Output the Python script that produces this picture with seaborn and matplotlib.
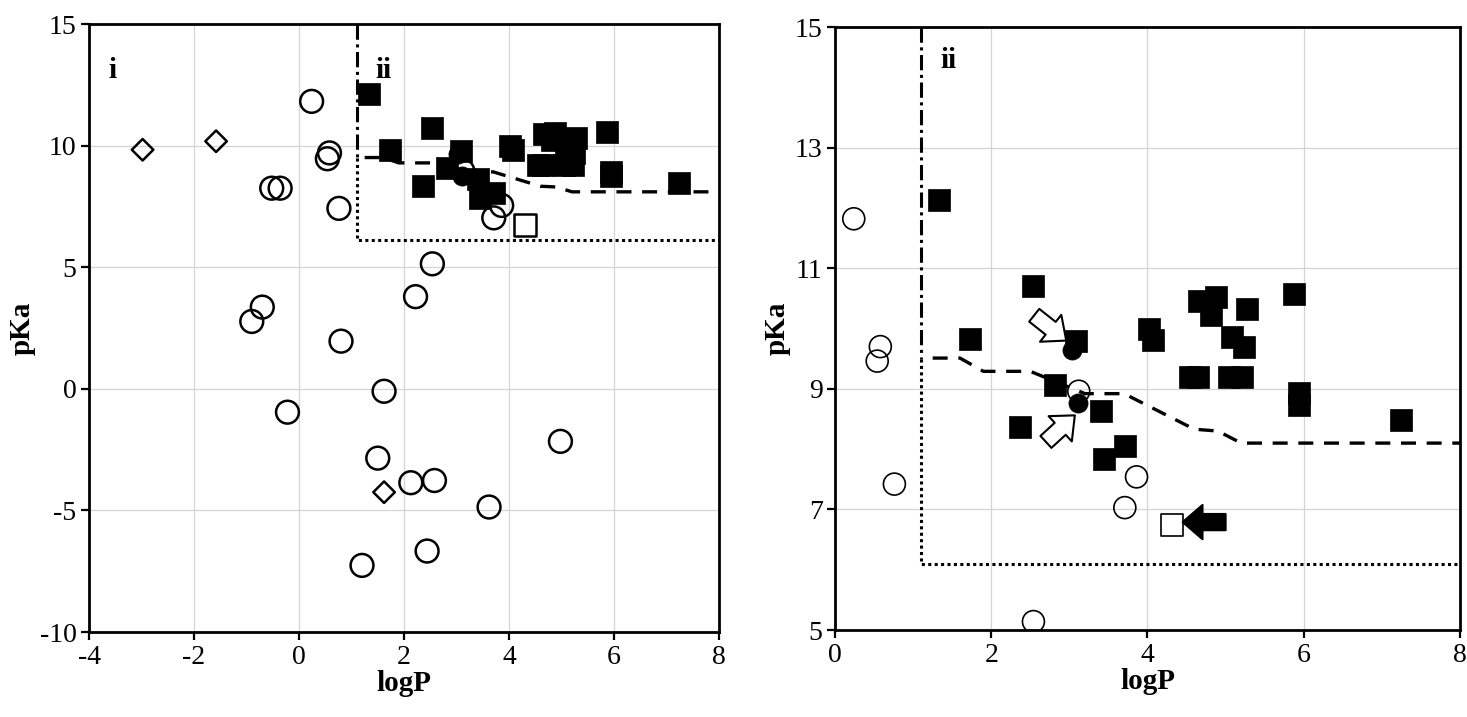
import matplotlib
matplotlib.use("Agg")
import matplotlib.pyplot as plt
import seaborn as sns

# filled squares: compounds inside region ii
sq_logp = [1.33, 1.73, 2.53, 3.09, 4.02, 4.07, 4.66, 4.88, 4.81, 5.28, 5.87, 5.08, 5.24,
           2.81, 3.40, 2.37, 3.71, 3.44, 4.55, 4.65, 5.04, 5.21, 5.94, 5.94, 7.24]
sq_pka = [12.13, 9.82, 10.71, 9.79, 10.00, 9.81, 10.46, 10.52, 10.22, 10.32, 10.57, 9.86, 9.70,
          9.06, 8.63, 8.36, 8.05, 7.83, 9.19, 9.19, 9.19, 9.19, 8.93, 8.74, 8.48]

# open circles
circ_logp = [0.24, 0.58, 0.54, -0.52, -0.36, 0.76, 3.12, 3.86, 3.71, 2.54, 2.22, -0.70,
             -0.90, 0.80, 1.62, -0.22, 4.98, 1.50, 2.13, 2.58, 3.62, 2.44, 1.20]
circ_pka = [11.82, 9.70, 9.46, 8.25, 8.25, 7.42, 8.96, 7.54, 7.03, 5.14, 3.79, 3.36,
            2.77, 1.96, -0.10, -0.96, -2.16, -2.85, -3.86, -3.77, -4.86, -6.67, -7.26]

# open diamonds
dia_logp = [-2.98, -1.58, 1.62]
dia_pka = [9.83, 10.18, -4.25]

# open square and filled circles
osq_logp = [4.31]
osq_pka = [6.75]
fc_logp = [3.03, 3.11]
fc_pka = [9.65, 8.77]

# boundary lines
dash_logp = [1.25, 1.6, 1.9, 2.5, 3.2, 3.7, 4.6, 4.9, 5.2, 8.0]
dash_pka = [9.51, 9.51, 9.29, 9.29, 8.92, 8.92, 8.33, 8.30, 8.10, 8.10]
dot_logp = [1.1, 1.1, 8.0]
dot_pka = [9.5, 6.1, 6.1]
dashdot_logp = [1.1, 1.1]
dashdot_pka = [15.0, 9.5]

# arrows in the zoomed panel: (tail, head, fill)
arrows = [((2.55, 10.22), (2.96, 9.80), "white"),
          ((2.70, 8.12), (3.07, 8.56), "white"),
          ((5.00, 6.79), (4.45, 6.79), "black")]

sns.set_theme(style="white")
plt.rcParams["font.family"] = ["Liberation Serif", "DejaVu Serif"]
plt.rcParams.update({"text.color": "black", "axes.labelcolor": "black",
                     "xtick.color": "black", "ytick.color": "black"})

fig = plt.figure(figsize=(14.67, 7.17), dpi=100)
ax1 = fig.add_axes([0.0607, 0.1185, 0.4294, 0.848])
ax2 = fig.add_axes([0.5692, 0.1213, 0.4260, 0.841])


def draw_points(ax, big=True):
    lw = 1.8 if big else 1.2
    sns.scatterplot(x=sq_logp, y=sq_pka, marker="s", s=240, color="black",
                    edgecolor="black", linewidth=0.5, ax=ax, zorder=3)
    sns.scatterplot(x=osq_logp, y=osq_pka, marker="s", s=230, facecolor="white",
                    edgecolor="black", linewidth=lw, ax=ax, zorder=3)
    sns.scatterplot(x=circ_logp, y=circ_pka, marker="o", s=270 if big else 250,
                    facecolor="none", edgecolor="black", linewidth=lw, ax=ax, zorder=4)
    sns.scatterplot(x=dia_logp, y=dia_pka, marker="D", s=120, facecolor="none",
                    edgecolor="black", linewidth=lw, ax=ax, zorder=4)
    sns.scatterplot(x=fc_logp, y=fc_pka, marker="o", s=190, color="black",
                    edgecolor="black", linewidth=0.5, ax=ax, zorder=5)


def draw_lines(ax):
    ax.plot(dash_logp, dash_pka, color="black", linestyle=(0, (4.5, 3.2)), lw=2.4, zorder=2)
    ax.plot(dot_logp, dot_pka, color="black", linestyle=(0, (1, 1.1)), lw=2.2, zorder=2)
    ax.plot(dashdot_logp, dashdot_pka, color="black", linestyle=(0, (5, 1.5, 1, 1.5)),
            lw=2.2, zorder=2)


def style_axes(ax, xticks, yticks):
    ax.set_xlim(xticks[0], xticks[-1])
    ax.set_ylim(yticks[0], yticks[-1])
    ax.set_xticks(xticks)
    ax.set_yticks(yticks)
    ax.set_xticklabels([str(t) for t in xticks])
    ax.set_yticklabels([str(t) for t in yticks])
    ax.grid(True, color="#d4d4d4", linewidth=0.9)
    ax.set_axisbelow(True)
    for sp in ax.spines.values():
        sp.set_color("black")
        sp.set_linewidth(2)
    ax.tick_params(axis="both", direction="out", length=6, width=1.6, color="black",
                   labelcolor="black", labelsize=20, pad=3, bottom=True, left=True)
    ax.set_xlabel("logP", fontsize=21, fontweight="bold", labelpad=0, color="black")
    ax.set_ylabel("pKa", fontsize=21, fontweight="bold", labelpad=3, color="black")


draw_lines(ax1)
draw_points(ax1, big=True)
style_axes(ax1, [-4, -2, 0, 2, 4, 6, 8], [-10, -5, 0, 5, 10, 15])
ax1.text(-3.55, 13.1, "i", fontsize=21, fontweight="bold", ha="center", va="center")
ax1.text(1.6, 13.1, "ii", fontsize=21, fontweight="bold", ha="center", va="center")

draw_lines(ax2)
draw_points(ax2, big=False)
style_axes(ax2, [0, 2, 4, 6, 8], [5, 7, 9, 11, 13, 15])
ax2.text(1.45, 14.45, "ii", fontsize=21, fontweight="bold", ha="center", va="center")

for tail, head, fill in arrows:
    ax2.annotate("", xy=head, xytext=tail, zorder=6,
                 arrowprops=dict(arrowstyle="simple,head_length=0.55,head_width=0.95,tail_width=0.45",
                                 fc=fill, ec="black", lw=1.5, mutation_scale=26,
                                 shrinkA=0, shrinkB=0))

fig.savefig("out.png", dpi=100)
